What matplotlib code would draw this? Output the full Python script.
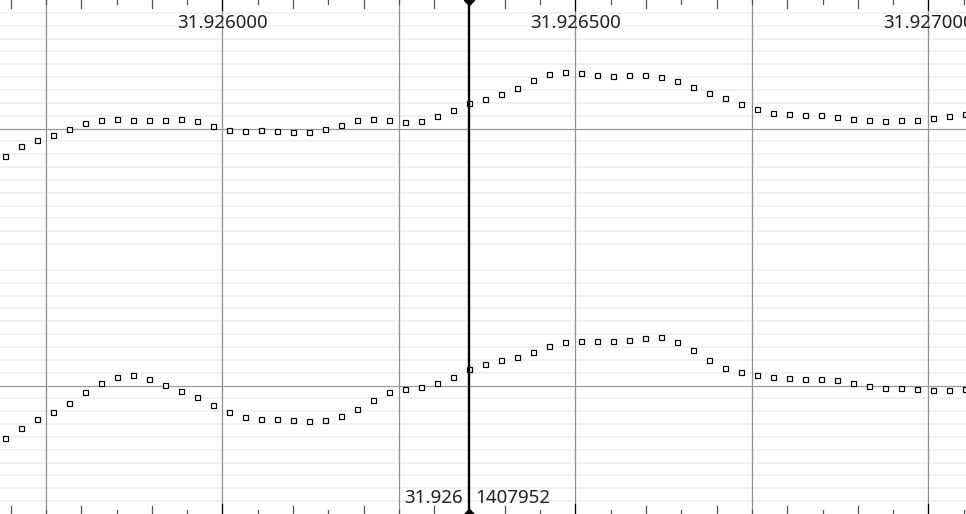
import numpy as np
import matplotlib
matplotlib.use('Agg')
import matplotlib.pyplot as plt
from matplotlib.transforms import offset_copy

plt.rcParams['font.family'] = ['Noto Sans', 'DejaVu Sans']

# sample data (44.1 kHz), first sample is 29 before the cursor
rate = 44100
cursor_sample = 1407952
first_offset = -29

ch1 = [-0.217, -0.139, -0.093, -0.051, -0.002, 0.040, 0.065, 0.073, 0.068, 0.063,
       0.065, 0.071, 0.055, 0.016, -0.015, -0.018, -0.015, -0.023, -0.030, -0.026,
       -0.007, 0.029, 0.065, 0.075, 0.063, 0.047, 0.055, 0.094, 0.146, 0.195,
       0.231, 0.265, 0.317, 0.377, 0.423, 0.437, 0.429, 0.413, 0.410, 0.413,
       0.416, 0.400, 0.367, 0.320, 0.278, 0.237, 0.192, 0.151, 0.122, 0.110,
       0.104, 0.102, 0.091, 0.075, 0.063, 0.058, 0.063, 0.068, 0.079, 0.094,
       0.114]

ch2 = [-0.412, -0.332, -0.262, -0.205, -0.140, -0.054, 0.018, 0.065, 0.078, 0.054,
       0.002, -0.044, -0.089, -0.148, -0.210, -0.249, -0.260, -0.262, -0.272, -0.275,
       -0.265, -0.239, -0.182, -0.109, -0.054, -0.026, -0.011, 0.018, 0.070, 0.127,
       0.171, 0.199, 0.220, 0.257, 0.304, 0.337, 0.345, 0.345, 0.347, 0.355,
       0.370, 0.374, 0.342, 0.275, 0.197, 0.140, 0.106, 0.080, 0.067, 0.062,
       0.054, 0.049, 0.039, 0.018, -0.003, -0.016, -0.023, -0.031, -0.034, -0.037,
       -0.031]

base_time = 31.926          # seconds, time labels relative to this
major_us = [0, 500, 1000]   # labelled ticks, microseconds after base_time
cursor_left = '31.926'
cursor_right = '1407952'

# time in microseconds after base_time
samples = cursor_sample + np.arange(first_offset, first_offset + len(ch1))
t_us = (samples / rate - base_time) * 1e6
cursor_us = (cursor_sample / rate - base_time) * 1e6

W, H = 966, 514
px_per_us = 0.706
cursor_px = 469
xlim = (cursor_us - cursor_px / px_per_us, cursor_us + (W - cursor_px) / px_per_us)

fig = plt.figure(figsize=(W / 100, H / 100), dpi=100)
top = fig.add_axes([0, 0.5, 1, 0.5])
bot = fig.add_axes([0, 0, 1, 0.5])
ax_h = H / 2

for ax, ch in ((top, ch1), (bot, ch2)):
    ax.set_xlim(*xlim)
    ax.set_ylim(-1, 1)
    ax.axis('off')
    for y in np.arange(-9, 10):
        if y != 0:
            ax.axhline(y / 10, color='#f1f1f1', lw=1.5, zorder=0)
    for g in np.arange(-250, 1251, 250):
        ax.axvline(g, color='#8f8f8f', lw=0.9, zorder=1)
    ax.axhline(0, color='#9a9a9a', lw=0.9, zorder=1)
    ax.plot(t_us, ch, ls='none', marker='s', ms=3.6, mfc='white', mec='black',
            mew=0.85, zorder=3)
    ax.axvline(cursor_us, color='black', lw=1.7, zorder=4)

# tick marks along the top and bottom edges
minor = np.arange(-300, 1101, 50)
for ax, edge, sign in ((top, 1.0, -1), (bot, 0.0, 1)):
    tr = ax.get_xaxis_transform()
    for m in minor:
        if m % 500 == 0:
            ln, col = 10, 'black'
        elif m % 100 == 0:
            ln, col = 8, '#555555'
        else:
            ln, col = 4, '#555555'
        ax.plot([m, m], [edge, edge + sign * ln / ax_h], color=col, lw=0.9,
                transform=tr, zorder=2)
    ax.plot(cursor_us, edge, marker='D', ms=5, color='black', transform=tr,
            zorder=5)

# time labels
tr = top.get_xaxis_transform()
for m in major_us:
    top.text(m, 1 - 28.3 / ax_h, '%.6f' % (base_time + m * 1e-6), ha='center',
             va='baseline', fontsize=13.5, color='#222222', transform=tr,
             clip_on=False)

# cursor label
tr = bot.get_xaxis_transform()
ty = 11.3 / ax_h
bot.text(cursor_us, ty, cursor_left, ha='right', va='baseline', fontsize=13.5,
         color='#222222', transform=offset_copy(tr, fig=fig, x=-6, units='dots'))
bot.text(cursor_us, ty, cursor_right, ha='left', va='baseline', fontsize=13.5,
         color='#222222', transform=offset_copy(tr, fig=fig, x=6, units='dots'))

fig.savefig('out.png', dpi=100)
